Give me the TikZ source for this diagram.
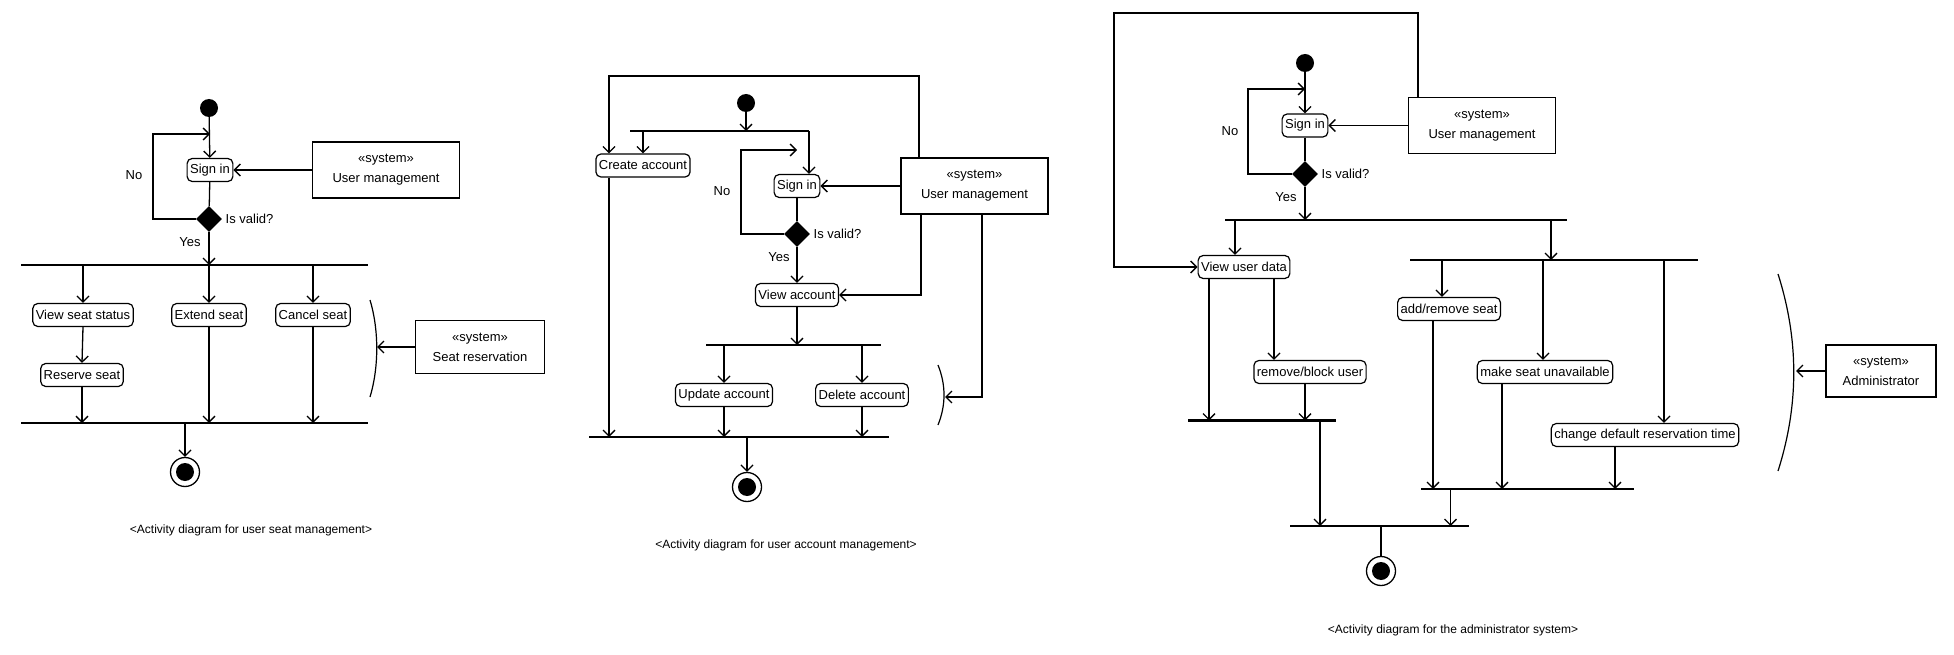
\documentclass[tikz,border=0pt]{standalone}
\usepackage{fontspec}
\setmainfont{Liberation Sans}
\usetikzlibrary{arrows.meta,shapes.geometric}

\tikzset{
    act/.style = {
        draw, rounded corners=5pt, line width=1.2pt,
        inner sep=3pt, minimum height=23pt
    },
    sys/.style = {
        draw, line width=1.6pt, align=center, inner sep=2pt
    },
    flow/.style = {
        line width=1.3pt,
        -{Straight Barb[length=6pt,width=12pt,line width=1.3pt]}
    },
    link/.style = {
        line width=1.3pt
    },
    bar/.style = {
        line width=2.4pt
    },
    start/.style = {
        circle, fill=black, minimum size=18pt, inner sep=0pt
    },
    final/.style = {
        circle, draw, line width=1.3pt, minimum size=29pt, inner sep=0pt,
        path picture={\fill (path picture bounding box.center) circle (9pt);}
    },
    decision/.style = {
        diamond, fill=black, minimum size=26pt, inner sep=0pt
    },
    brace/.style = {
        line width=1.2pt
    },
    caption/.style = {
        font=\fontsize{12}{14}\selectfont
    }
}

\begin{document}
\begin{tikzpicture}[x=1pt,y=-1pt,font=\fontsize{13}{15}\selectfont]
    \useasboundingbox (0,0) rectangle (1954,655);

    % Seat management
    \node[start] (start1) at (209,108) {};
    \node[act] (sign1) at (210,170) {Sign in};
    \node[decision] (dec1) at (209,219) {};
    \node[sys, minimum width=147pt, minimum height=56pt] (um1) at (386,170) {«system»\\[5pt]User management};
    \node (no1) at (134,175) {No};
    \node[anchor=west] (val1) at (dec1.east) {Is valid?};
    \node (yes1) at (190,242) {Yes};
    \coordinate (loop1) at (153,134);
    \coordinate (f1a) at (21,265);
    \coordinate (f1b) at (368,265);
    \node[act] (vss) at (83,315) {View seat status};
    \node[act] (ext) at (209,315) {Extend seat};
    \node[act] (cnl) at (313,315) {Cancel seat};
    \node[act] (rsv) at (82,375) {Reserve seat};
    \coordinate (j1a) at (21,423);
    \coordinate (j1b) at (368,423);
    \coordinate (j1m) at (185,423);
    \node[final] (end1) at (185,472) {};
    \node[sys, minimum width=129pt, minimum height=53pt] (sr1) at (480,347) {«system»\\[5pt]Seat reservation};
    \coordinate (br1) at (377,347);

    \draw[flow] (start1) -- (sign1);
    \draw[link] (sign1) -- (dec1);
    \draw[flow] (dec1.west) -| (loop1) -- (loop1 -| sign1.north);
    \draw[flow] (um1.west) -- (sign1.east);
    \draw[bar] (f1a) -- (f1b);
    \draw[flow] (dec1.south) -- (dec1 |- f1a);
    \draw[flow] (vss |- f1a) -- (vss.north);
    \draw[flow] (ext |- f1a) -- (ext.north);
    \draw[flow] (cnl |- f1a) -- (cnl.north);
    \draw[flow] (vss.south) -- (rsv.north);
    \draw[bar] (j1a) -- (j1b);
    \draw[flow] (rsv.south) -- (rsv |- j1a);
    \draw[flow] (ext.south) -- (ext |- j1a);
    \draw[flow] (cnl.south) -- (cnl |- j1a);
    \draw[flow] (j1m) -- (end1);
    \draw[brace] (370,300) .. controls (379,330) and (379,367) .. (370,397);
    \draw[flow] (sr1.west) -- (br1);
    \node[caption] (cap1) at (251,530) {<Activity diagram for user seat management>};

    % Account management
    \node[start] (start2) at (746,103) {};
    \coordinate (f2a) at (630,131);
    \coordinate (f2b) at (809,131);
    \node[act] (create) at (643,165.5) {Create account};
    \node[act] (sign2) at (797,186) {Sign in};
    \node[decision] (dec2) at (797,234) {};
    \node (no2) at (722,191) {No};
    \node[anchor=west] (val2) at (dec2.east) {Is valid?};
    \node (yes2) at (779,257) {Yes};
    \node[act] (view2) at (797,295) {View account};
    \node[sys, minimum width=147pt, minimum height=56pt] (um2) at (974.5,186) {«system»\\[5pt]User management};
    \coordinate (loop2) at (741,150);
    \coordinate (top2a) at (919,76);
    \coordinate (top2b) at (609,76);
    \coordinate (um2a) at (921,295);
    \coordinate (um2b) at (982,397);
    \coordinate (br2) at (945,397);
    \coordinate (f3a) at (706,345);
    \coordinate (f3b) at (881,345);
    \node[act] (upd) at (724,395) {Update account};
    \node[act] (del) at (862,395) {Delete account};
    \coordinate (j2a) at (589,437);
    \coordinate (j2b) at (889,437);
    \coordinate (j2m) at (747,437);
    \node[final] (end2) at (747,487) {};

    \draw[flow] (start2) -- (start2 |- f2a);
    \draw[bar] (f2a) -- (f2b);
    \draw[flow] (create |- f2a) -- (create.north);
    \draw[flow] (f2b) -- (f2b |- sign2.north);
    \draw[link] (sign2) -- (dec2);
    \draw[flow] (dec2.west) -| (loop2) -- (loop2 -| sign2.north);
    \draw[flow] (dec2.south) -- (view2.north);
    \draw[flow] (um2.west) -- (sign2.east);
    \draw[flow] (top2a |- um2.north) -- (top2a) -- (top2b) -- (top2b |- create.north);
    \draw[flow] (um2a |- um2.south) -- (um2a) -- (view2.east);
    \draw[flow] (um2b |- um2.south) -- (um2b) -- (br2);
    \draw[brace] (938,365) .. controls (946,385) and (946,405) .. (938,425);
    \draw[flow] (view2.south) -- (view2 |- f3a);
    \draw[bar] (f3a) -- (f3b);
    \draw[flow] (upd |- f3a) -- (upd.north);
    \draw[flow] (del |- f3a) -- (del.north);
    \draw[bar] (j2a) -- (j2b);
    \draw[flow] (top2b |- create.south) -- (top2b |- j2a);
    \draw[flow] (upd.south) -- (upd |- j2a);
    \draw[flow] (del.south) -- (del |- j2a);
    \draw[flow] (j2m) -- (end2);
    \node[caption] (cap2) at (786,545) {<Activity diagram for user account management>};

    % Administrator
    \node[start] (start3) at (1305,63) {};
    \node[act] (sign3) at (1305,125.5) {Sign in};
    \node[decision] (dec3) at (1305,174) {};
    \node (no3) at (1230,131) {No};
    \node[anchor=west] (val3) at (dec3.east) {Is valid?};
    \node (yes3) at (1286,197) {Yes};
    \node[sys, minimum width=147pt, minimum height=56pt] (um3) at (1482,125.5) {«system»\\[5pt]User management};
    \coordinate (loop3) at (1248,89);
    \coordinate (top3a) at (1418,13);
    \coordinate (top3b) at (1114,13);
    \coordinate (top3c) at (1114,267);
    \coordinate (f4a) at (1225,220);
    \coordinate (f4b) at (1567,220);
    \coordinate (f4c) at (1551,220);
    \node[act] (vud) at (1244,267) {View user data};
    \coordinate (f5a) at (1410,260);
    \coordinate (f5b) at (1698,260);
    \node[act] (addrm) at (1449,309) {add/remove seat};
    \node[act] (rmb) at (1310,372) {remove/block user};
    \node[act] (mksu) at (1545,372) {make seat unavailable};
    \node[act] (chg) at (1645,435) {change default reservation time};
    \coordinate (vudl) at (1209,0);
    \coordinate (j3a) at (1188,420.5);
    \coordinate (j3b) at (1336,420.5);
    \coordinate (j3m) at (1320,420.5);
    \coordinate (j4a) at (1421,489);
    \coordinate (j4b) at (1634,489);
    \coordinate (j4m) at (1450.5,489);
    \coordinate (j5a) at (1290,526);
    \coordinate (j5b) at (1468.5,526);
    \node[final] (end3) at (1381,571) {};
    \node[sys, minimum width=110pt, minimum height=52pt] (adm) at (1881,371) {«system»\\[5pt]Administrator};
    \coordinate (br3) at (1796,371);

    \draw[flow] (start3) -- (sign3);
    \draw[link] (sign3) -- (dec3);
    \draw[flow] (dec3.west) -| (loop3) -- (loop3 -| sign3.north);
    \draw[flow] (um3.west) -- (sign3.east);
    \draw[flow] (top3a |- um3.north) -- (top3a) -- (top3b) -- (top3c) -- (vud.west);
    \draw[bar] (f4a) -- (f4b);
    \draw[flow] (dec3.south) -- (dec3 |- f4a);
    \draw[flow] (1235,220) -- (1235,0 |- vud.north);
    \draw[flow] (f4c) -- (f4c |- f5a);
    \draw[bar] (f5a) -- (f5b);
    \draw[flow] (1442,260) -- (1442,0 |- addrm.north);
    \draw[flow] (1543,260) -- (1543,0 |- mksu.north);
    \draw[flow] (1664,260) -- (1664,0 |- chg.north);
    \draw[flow] (vudl |- vud.south) -- (vudl |- j3a);
    \draw[flow] (1274,0 |- vud.south) -- (1274,0 |- rmb.north);
    \draw[bar] (j3a) -- (j3b);
    \draw[flow] (1305,0 |- rmb.south) -- (1305,0 |- j3a);
    \draw[flow] (1433,0 |- addrm.south) -- (1433,0 |- j4a);
    \draw[flow] (1502,0 |- mksu.south) -- (1502,0 |- j4a);
    \draw[flow] (1615,0 |- chg.south) -- (1615,0 |- j4a);
    \draw[bar] (j4a) -- (j4b);
    \draw[bar] (j5a) -- (j5b);
    \draw[flow] (j3m) -- (j3m |- j5a);
    \draw[flow] (j4m) -- (j4m |- j5a);
    \draw[link] (end3 |- j5a) -- (end3);
    \draw[brace] (1778,274) .. controls (1799,340) and (1799,405) .. (1778,471);
    \draw[flow] (adm.west) -- (br3);
    \node[caption] (cap3) at (1453,630) {<Activity diagram for the administrator system>};
\end{tikzpicture}
\end{document}
